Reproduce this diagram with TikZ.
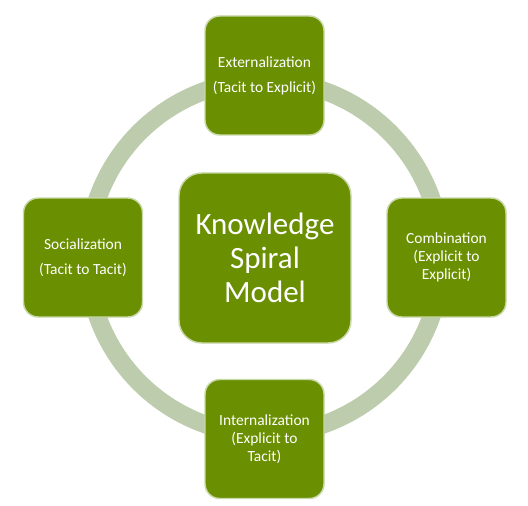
\documentclass[tikz,border=0pt]{standalone}
\usepackage{fontspec}
\setmainfont{Carlito}

\begin{document}
\begin{tikzpicture}[x=0.75pt,y=0.75pt,yscale=-1,xscale=1,
  ring/.style={draw={rgb,255:red,188;green,204;blue,172}, line width=13.5pt},
  box/.style={draw={rgb,255:red,200;green,216;blue,168}, fill={rgb,255:red,106;green,143;blue,0}, line width=1.1pt, rounded corners=11pt, minimum width=89.25pt, minimum height=89.25pt, inner sep=0pt, align=center, text=white},
  twoline/.style={font=\fontsize{11.6}{18.75}\selectfont},
  threeline/.style={font=\fontsize{11.6}{13.5}\selectfont},
  core/.style={box, rounded corners=17pt, minimum width=129pt, minimum height=127.5pt, font=\fontsize{23.25}{25.5}\selectfont}]
\useasboundingbox (0,0) rectangle (528,506);

%Ring behind the boxes
\draw [ring] (264.5,257.5) circle [radius=132.75pt];

%Boxes
\node [core] (model) at (265,258) {Knowledge\\Spiral\\Model};
\node [box, twoline] (ext) at (264.5,75.5) {Externalization\\(Tacit to Explicit)};
\node [box, threeline] (comb) at (446.5,257.5) {Combination\\(Explicit to\\Explicit)};
\node [box, threeline] (int) at (264.5,439) {Internalization\\(Explicit to\\Tacit)};
\node [box, twoline] (soc) at (83,257.5) {Socialization\\(Tacit to Tacit)};

\end{tikzpicture}
\end{document}
